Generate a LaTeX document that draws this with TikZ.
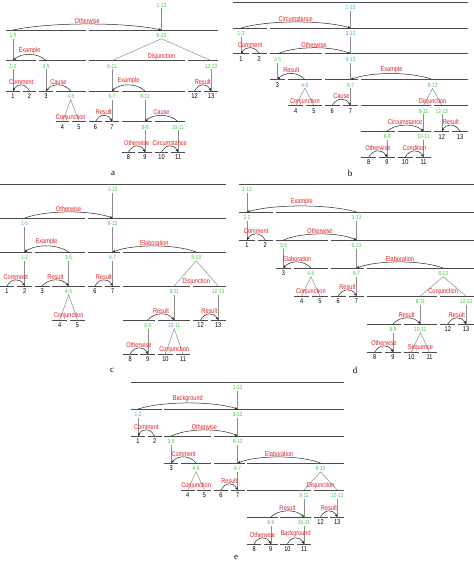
\documentclass[tikz,border=0pt]{standalone}
\usepackage{fontspec}
\usepackage{tikz}
\usetikzlibrary{arrows.meta,positioning,calc}
\newfontfamily\rstfont{Liberation Sans}[FakeStretch=0.8]
\newfontfamily\capfont{Liberation Serif}
\definecolor{rstgreen}{RGB}{60,205,60}
\definecolor{rstred}{RGB}{225,30,35}

% leaf: panel, number, row
\newcommand\rleaf[3]{%
  \draw[spanbar] (#2-.42,#3) -- (#2+.42,#3);
  \coordinate (#1T#2) at (#2,#3);
  \node[leafnum, below=2pt] (#1#2) at (#1T#2) {#2};}
% span: panel, first, last, x, row
\newcommand\rspan[5]{%
  \draw[spanbar] (#2-.42,#5) -- (#3+.42,#5);
  \coordinate (#1T#2-#3) at (#4,#5);
  \node[spanlab, below=2.5pt] (#1#2-#3) at (#1T#2-#3) {#2-#3};}
% mononuclear: panel, parent, satellite, nucleus, relation
\newcommand\rmono[5]{%
  \draw[vline] (#1#2) -- (#1T#4);
  \draw[relarc] (#1T#3) .. controls ($(#1T#3)!.25!(#1T#4)+(0pt,8pt)$) and ($(#1T#3)!.75!(#1T#4)+(0pt,8pt)$) .. (#1T#4)
    node[relname, pos=.5, above] (#1R#2) {#5};}
% multinuclear: panel, parent, first, second, relation
\newcommand\rmulti[5]{%
  \draw[vline] (#1T#3) -- (#1#2.south) -- (#1T#4);
  \path (#1T#3) -- node[relname, above] (#1R#2) {#5} (#1T#4);}

\begin{document}
\begin{tikzpicture}[
    >=Stealth,
    spanbar/.style={draw=black!70, line width=0.8pt},
    vline/.style={draw=black!45, line width=0.5pt},
    relarc/.style={-{Stealth[length=3pt,width=2.6pt]}, draw=black!85, line width=0.5pt},
    spanlab/.style={text=rstgreen, font=\rstfont\fontsize{6}{6}\selectfont, inner sep=0.8pt},
    leafnum/.style={text=black, font=\rstfont\fontsize{7}{7}\selectfont, inner sep=0.8pt},
    relname/.style={text=rstred, font=\rstfont\fontsize{7}{7}\selectfont, inner sep=0.4pt},
    caption/.style={font=\capfont\fontsize{9}{9}\selectfont}
  ]
  \useasboundingbox (0,0) rectangle (474pt,-563pt);

  % Tree a
  \begin{scope}[shift={(-3.5pt,0.5pt)}, x=16.5pt, y=-30.5pt]
    \foreach \i/\r in {1/3,2/3,3/3,4/4,5/4,6/4,7/4,8/5,9/5,10/5,11/5,12/3,13/3} {\rleaf{a}{\i}{\r}}
    \rspan{a}{1}{13}{10}{0}
    \rspan{a}{1}{5}{1}{1}
    \rspan{a}{6}{13}{10}{1}
    \rspan{a}{1}{2}{1}{2}
    \rspan{a}{3}{5}{3}{2}
    \rspan{a}{6}{11}{7}{2}
    \rspan{a}{12}{13}{13}{2}
    \rspan{a}{4}{5}{4.5}{3}
    \rspan{a}{6}{7}{7}{3}
    \rspan{a}{8}{11}{9}{3}
    \rspan{a}{8}{9}{9}{4}
    \rspan{a}{10}{11}{11}{4}
    \rmono{a}{1-13}{1-5}{6-13}{Otherwise}
    \rmono{a}{1-5}{3-5}{1-2}{Example}
    \rmono{a}{1-2}{2}{1}{Comment}
    \rmono{a}{3-5}{4-5}{3}{Cause}
    \rmulti{a}{4-5}{4}{5}{Conjunction}
    \rmulti{a}{6-13}{6-11}{12-13}{Disjunction}
    \rmono{a}{6-11}{8-11}{6-7}{Example}
    \rmono{a}{6-7}{6}{7}{Result}
    \rmono{a}{8-11}{10-11}{8-9}{Cause}
    \rmono{a}{8-9}{8}{9}{Otherwise}
    \rmono{a}{10-11}{10}{11}{Circumstance}
    \rmono{a}{12-13}{12}{13}{Result}
  \end{scope}

  % Tree b
  \begin{scope}[shift={(222.75pt,-2.2pt)}, x=18.25pt, y=-25.8pt]
    \foreach \i/\r in {1/2,2/2,3/3,4/4,5/4,6/4,7/4,8/6,9/6,10/6,11/6,12/5,13/5} {\rleaf{b}{\i}{\r}}
    \rspan{b}{1}{13}{7}{0}
    \rspan{b}{1}{2}{1}{1}
    \rspan{b}{3}{13}{7}{1}
    \rspan{b}{3}{5}{3}{2}
    \rspan{b}{6}{13}{7}{2}
    \rspan{b}{4}{5}{4.5}{3}
    \rspan{b}{6}{7}{7}{3}
    \rspan{b}{8}{13}{11.5}{3}
    \rspan{b}{8}{11}{11}{4}
    \rspan{b}{12}{13}{12}{4}
    \rspan{b}{8}{9}{9}{5}
    \rspan{b}{10}{11}{11}{5}
    \rmono{b}{1-13}{1-2}{3-13}{Circumstance}
    \rmono{b}{1-2}{2}{1}{Comment}
    \rmono{b}{3-13}{3-5}{6-13}{Otherwise}
    \rmono{b}{3-5}{4-5}{3}{Result}
    \rmulti{b}{4-5}{4}{5}{Conjunction}
    \rmono{b}{6-13}{8-13}{6-7}{Example}
    \rmono{b}{6-7}{6}{7}{Cause}
    \rmulti{b}{8-13}{8-11}{12-13}{Disjunction}
    \rmono{b}{8-11}{8-9}{10-11}{Circumstance}
    \rmono{b}{12-13}{13}{12}{Result}
    \rmono{b}{8-9}{8}{9}{Otherwise}
    \rmono{b}{10-11}{10}{11}{Condition}
  \end{scope}

  % Tree c
  \begin{scope}[shift={(-10.6pt,-184pt)}, x=17.6pt, y=-34pt]
    \foreach \i/\r in {1/3,2/3,3/3,4/4,5/4,6/3,7/3,8/5,9/5,10/5,11/5,12/4,13/4} {\rleaf{c}{\i}{\r}}
    \rspan{c}{1}{13}{7}{0}
    \rspan{c}{1}{5}{2}{1}
    \rspan{c}{6}{13}{7}{1}
    \rspan{c}{1}{2}{2}{2}
    \rspan{c}{3}{5}{4.5}{2}
    \rspan{c}{6}{7}{7}{2}
    \rspan{c}{8}{13}{11.75}{2}
    \rspan{c}{4}{5}{4.5}{3}
    \rspan{c}{8}{11}{10.5}{3}
    \rspan{c}{12}{13}{13}{3}
    \rspan{c}{8}{9}{9}{4}
    \rspan{c}{10}{11}{10.5}{4}
    \rmono{c}{1-13}{1-5}{6-13}{Otherwise}
    \rmono{c}{1-5}{3-5}{1-2}{Example}
    \rmono{c}{1-2}{1}{2}{Comment}
    \rmono{c}{3-5}{3}{4-5}{Result}
    \rmulti{c}{4-5}{4}{5}{Conjunction}
    \rmono{c}{6-13}{8-13}{6-7}{Elaboration}
    \rmono{c}{6-7}{6}{7}{Result}
    \rmulti{c}{8-13}{8-11}{12-13}{Disjunction}
    \rmono{c}{8-11}{8-9}{10-11}{Result}
    \rmono{c}{12-13}{12}{13}{Result}
    \rmono{c}{8-9}{8}{9}{Otherwise}
    \rmulti{c}{10-11}{10}{11}{Conjunction}
  \end{scope}

  % Tree d
  \begin{scope}[shift={(228.75pt,-184pt)}, x=18.25pt, y=-28pt]
    \foreach \i/\r in {1/2,2/2,3/3,4/4,5/4,6/4,7/4,8/6,9/6,10/6,11/6,12/5,13/5} {\rleaf{d}{\i}{\r}}
    \rspan{d}{1}{13}{1}{0}
    \rspan{d}{1}{2}{1}{1}
    \rspan{d}{3}{13}{7}{1}
    \rspan{d}{3}{5}{3}{2}
    \rspan{d}{6}{13}{7}{2}
    \rspan{d}{4}{5}{4.5}{3}
    \rspan{d}{6}{7}{7}{3}
    \rspan{d}{8}{13}{11.75}{3}
    \rspan{d}{8}{11}{10.5}{4}
    \rspan{d}{12}{13}{13}{4}
    \rspan{d}{8}{9}{9}{5}
    \rspan{d}{10}{11}{10.5}{5}
    \rmono{d}{1-13}{3-13}{1-2}{Example}
    \rmono{d}{1-2}{2}{1}{Comment}
    \rmono{d}{3-13}{3-5}{6-13}{Otherwise}
    \rmono{d}{3-5}{4-5}{3}{Elaboration}
    \rmulti{d}{4-5}{4}{5}{Conjunction}
    \rmono{d}{6-13}{8-13}{6-7}{Elaboration}
    \rmono{d}{6-7}{6}{7}{Result}
    \rmulti{d}{8-13}{8-11}{12-13}{Conjunction}
    \rmono{d}{8-11}{8-9}{10-11}{Result}
    \rmono{d}{12-13}{12}{13}{Result}
    \rmono{d}{8-9}{8}{9}{Otherwise}
    \rmulti{d}{10-11}{10}{11}{Sequence}
  \end{scope}

  % Tree e
  \begin{scope}[shift={(121.4pt,-382pt)}, x=16.6pt, y=-27pt]
    \foreach \i/\r in {1/2,2/2,3/3,4/4,5/4,6/4,7/4,8/6,9/6,10/6,11/6,12/5,13/5} {\rleaf{e}{\i}{\r}}
    \rspan{e}{1}{13}{7}{0}
    \rspan{e}{1}{2}{1}{1}
    \rspan{e}{3}{13}{7}{1}
    \rspan{e}{3}{5}{3}{2}
    \rspan{e}{6}{13}{7}{2}
    \rspan{e}{4}{5}{4.5}{3}
    \rspan{e}{6}{7}{7}{3}
    \rspan{e}{8}{13}{12}{3}
    \rspan{e}{8}{11}{11}{4}
    \rspan{e}{12}{13}{13}{4}
    \rspan{e}{8}{9}{9}{5}
    \rspan{e}{10}{11}{11}{5}
    \rmono{e}{1-13}{1-2}{3-13}{Background}
    \rmono{e}{1-2}{2}{1}{Comment}
    \rmono{e}{3-13}{3-5}{6-13}{Otherwise}
    \rmono{e}{3-5}{4-5}{3}{Comment}
    \rmulti{e}{4-5}{4}{5}{Conjunction}
    \rmono{e}{6-13}{8-13}{6-7}{Elaboration}
    \rmono{e}{6-7}{6}{7}{Result}
    \rmulti{e}{8-13}{8-11}{12-13}{Disjunction}
    \rmono{e}{8-11}{8-9}{10-11}{Result}
    \rmono{e}{12-13}{12}{13}{Result}
    \rmono{e}{8-9}{8}{9}{Otherwise}
    \rmono{e}{10-11}{10}{11}{Background}
  \end{scope}

  % Captions
  \node[caption] (capa) at (113pt,-173pt) {a};
  \node[caption] (capb) at (350pt,-173pt) {b};
  \node[caption] (capc) at (112pt,-370pt) {c};
  \node[caption] (capd) at (355pt,-370pt) {d};
  \node[caption] (cape) at (236pt,-557pt) {e};
\end{tikzpicture}
\end{document}
